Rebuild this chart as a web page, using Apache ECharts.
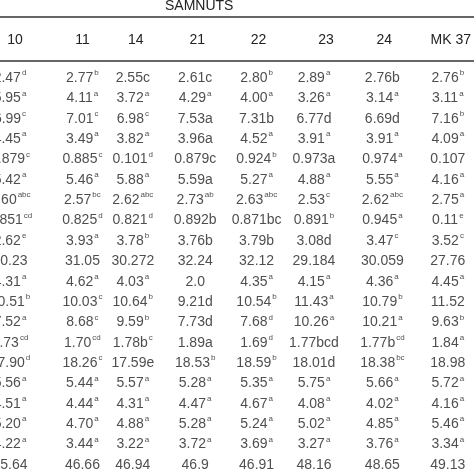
<!DOCTYPE html>
<html><head><meta charset="utf-8">
<script src="https://cdn.jsdelivr.net/npm/echarts@6/dist/echarts.min.js"></script>
<style>html,body{margin:0;padding:0;background:#fff}#c{width:474px;height:474px}</style>
</head><body><div id="c"></div>
<script>
const title = "SAMNUTS";
const columns = ["10","11","14","21","22","23","24","MK 37"];
const col10 = ["2.47^d","5.95^a","6.99^c","4.45^a","0.879^c","5.42^a","2.60^abc","0.851^cd","2.62^e","30.23","4.31^a","10.51^b","7.52^a","1.73^cd","17.90^d","5.56^a","4.51^a","5.20^a","4.22^a","45.64"];
const col11 = ["2.77^b","4.11^a","7.01^c","3.49^a","0.885^c","5.46^a","2.57^bc","0.825^d","3.93^a","31.05","4.62^a","10.03^c","8.68^c","1.70^cd","18.26^c","5.44^a","4.44^a","4.70^a","3.44^a","46.66"];
const col14 = ["2.55c","3.72^a","6.98^c","3.82^a","0.101^d","5.88^a","2.62^abc","0.821^d","3.78^b","30.272","4.03^a","10.64^b","9.59^b","1.78b^c","17.59e","5.57^a","4.31^a","4.88^a","3.22^a","46.94"];
const col21 = ["2.61c","4.29^a","7.53a","3.96a","0.879c","5.59a","2.73^ab","0.892b","3.76b","32.24","2.0","9.21d","7.73d","1.89a","18.53^b","5.28^a","4.47^a","5.28^a","3.72^a","46.9"];
const col22 = ["2.80^b","4.00^a","7.31b","4.52^a","0.924^b","5.27^a","2.63^abc","0.871bc","3.79b","32.12","4.35^a","10.54^b","7.68^d","1.69^d","18.59^b","5.35^a","4.67^a","5.24^a","3.69^a","46.91"];
const col23 = ["2.89^a","3.26^a","6.77d","3.91^a","0.973a","4.88^a","2.53^c","0.891^b","3.08d","29.184","4.15^a","11.43^a","10.26^a","1.77bcd","18.01d","5.75^a","4.08^a","5.02^a","3.27^a","48.16"];
const col24 = ["2.76b","3.14^a","6.69d","3.91^a","0.974^a","5.55^a","2.62^abc","0.945^a","3.47^c","30.059","4.36^a","10.79^b","10.21^a","1.77b^cd","18.38^bc","5.66^a","4.02^a","4.85^a","3.76^a","48.65"];
const colMK37 = ["2.76^b","3.11^a","7.16^b","4.09^a","0.107","4.16^a","2.75^a","0.11^e","3.52^c","27.76","4.45^a","11.52","9.63^b","1.84^a","18.98","5.72^a","4.16^a","5.46^a","3.34^a","49.13"];
const allCols = [col10,col11,col14,col21,col22,col23,col24,colMK37];
const colOffset = [-2,8,-4,-4,-5,-10,-4,-1];
const headOffset = [3,8,-1,-2,-3,2,-2,2];

const rows = col10.map((_, i) => String(i));
const data = [];
allCols.forEach((col, ci) => col.forEach((v, ri) => data.push({value:[ci, ri], txt:v, ci})));

const headRich = {};
headOffset.forEach((d,i)=>{headRich['h'+i]={fontSize:14,color:'#222',fontFamily:'Liberation Sans',
  padding: d>=0 ? [0,0,0,2*d] : [0,-2*d,0,0]};});

const chart = echarts.init(document.getElementById('c'));
chart.setOption({
  animation:false,
  textStyle:{fontFamily:'Liberation Sans, Arial, sans-serif'},
  grid:{left:12,right:19,top:77,bottom:10},
  xAxis:{type:'category',data:columns,boundaryGap:false,position:'top',
    axisLine:{show:false},axisTick:{show:false},splitLine:{show:false},
    axisLabel:{margin:30,interval:0,formatter:(v,i)=>'{h'+i+'|'+v+'}',rich:headRich}},
  yAxis:{type:'category',data:rows,boundaryGap:false,inverse:true,show:false},
  graphic:[
    {type:'text',left:165,top:-1,style:{text:title,fontSize:14,fill:'#222',fontFamily:'Liberation Sans'}},
    {type:'rect',shape:{x:0,y:16,width:474,height:2},style:{fill:'#666'}},
    {type:'rect',shape:{x:0,y:60,width:474,height:2},style:{fill:'#666'}}
  ],
  series:[{type:'scatter',symbolSize:1,itemStyle:{color:'rgba(0,0,0,0)'},data:data,
    label:{show:true,position:'inside',
      formatter:p=>{const [a,b]=p.data.txt.split('^');return '{v|'+a+'}'+(b?'{s|'+b+'}':'');},
      rich:{v:{fontSize:14,color:'#222',fontFamily:'Liberation Sans',lineHeight:16,verticalAlign:'bottom'},
            s:{fontSize:8,color:'#222',fontFamily:'Liberation Sans',lineHeight:16,verticalAlign:'top',padding:[0,0,6,1]}}},
    labelLayout:p=>({dx:colOffset[data[p.dataIndex].ci]})
  }]
});
</script></body></html>
